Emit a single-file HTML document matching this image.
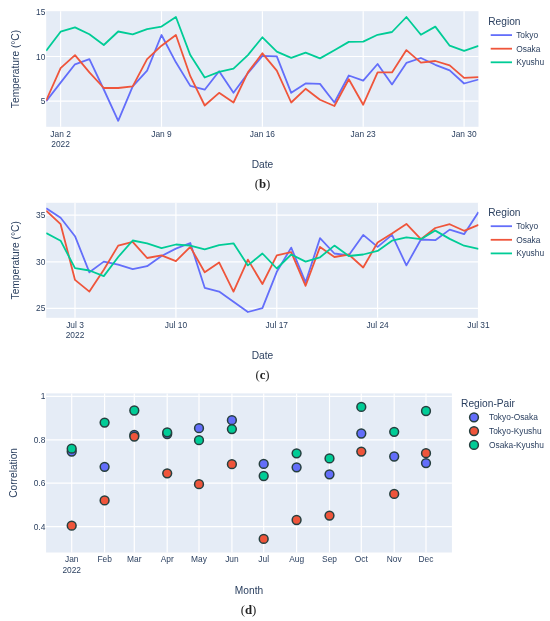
<!DOCTYPE html>
<html><head><meta charset="utf-8"><style>
html,body{margin:0;padding:0;background:#fff;width:550px;height:621px;overflow:hidden}
svg{display:block;will-change:transform}
text{font-family:"Liberation Sans",sans-serif;fill:#2a3f5f}
.tk{font-size:8.4px}
.at{font-size:10.2px}
.lt{font-size:10.2px}
.cap{font-family:"Liberation Serif",serif;font-size:12.8px;fill:#222}
</style></head><body>
<svg width="550" height="621" viewBox="0 0 550 621">
<defs>
<clipPath id="clip1"><rect x="46.2" y="11.2" width="432.3" height="115.6"/></clipPath>
<clipPath id="clip2"><rect x="46.2" y="202.8" width="432.3" height="115.0"/></clipPath>
</defs>
<rect width="550" height="621" fill="#fff"/>
<rect x="46.2" y="11.2" width="432.3" height="115.6" fill="#e5ecf6"/>
<line x1="60.6" y1="11.2" x2="60.6" y2="126.8" stroke="#fff" stroke-width="1.2"/>
<line x1="161.5" y1="11.2" x2="161.5" y2="126.8" stroke="#fff" stroke-width="1.2"/>
<line x1="262.4" y1="11.2" x2="262.4" y2="126.8" stroke="#fff" stroke-width="1.2"/>
<line x1="363.2" y1="11.2" x2="363.2" y2="126.8" stroke="#fff" stroke-width="1.2"/>
<line x1="464.1" y1="11.2" x2="464.1" y2="126.8" stroke="#fff" stroke-width="1.2"/>
<line x1="46.2" y1="56.5" x2="478.5" y2="56.5" stroke="#fff" stroke-width="1.2"/>
<line x1="46.2" y1="101.2" x2="478.5" y2="101.2" stroke="#fff" stroke-width="1.2"/>
<g clip-path="url(#clip1)">
<polyline points="46.2,101.2 60.6,82.6 75.0,64.3 89.4,59.2 103.8,89.5 118.2,120.8 132.7,86.4 147.1,70.6 161.5,35.0 175.9,62.3 190.3,85.9 204.7,89.7 219.1,71.2 233.5,92.8 247.9,73.2 262.4,55.9 276.8,56.4 291.2,92.8 305.6,83.4 320.0,83.9 334.4,102.5 348.8,75.5 363.2,80.6 377.6,64.0 392.0,84.4 406.4,62.9 420.9,58.0 435.3,64.8 449.7,70.4 464.1,83.5 478.5,79.5" fill="none" stroke="#636efa" stroke-width="1.8" stroke-linejoin="round"/>
<polyline points="46.2,100.4 60.6,68.1 75.0,55.1 89.4,72.4 103.8,88.0 118.2,88.0 132.7,86.4 147.1,59.2 161.5,45.7 175.9,35.0 190.3,76.2 204.7,105.5 219.1,92.8 233.5,102.5 247.9,72.4 262.4,53.3 276.8,70.6 291.2,102.5 305.6,88.8 320.0,99.7 334.4,106.0 348.8,79.3 363.2,104.7 377.6,72.4 392.0,72.4 406.4,50.1 420.9,62.6 435.3,61.0 449.7,65.4 464.1,77.9 478.5,77.1" fill="none" stroke="#ef553b" stroke-width="1.8" stroke-linejoin="round"/>
<polyline points="46.2,50.8 60.6,31.7 75.0,27.4 89.4,34.3 103.8,45.0 118.2,31.5 132.7,34.3 147.1,29.2 161.5,26.6 175.9,17.0 190.3,55.1 204.7,77.5 219.1,71.9 233.5,68.6 247.9,55.1 262.4,37.3 276.8,51.6 291.2,57.9 305.6,52.6 320.0,58.4 334.4,50.3 348.8,41.9 363.2,41.6 377.6,34.8 392.0,32.0 406.4,17.0 420.9,34.8 435.3,26.6 449.7,45.7 464.1,50.9 478.5,45.9" fill="none" stroke="#00cc96" stroke-width="1.8" stroke-linejoin="round"/>
</g>
<text x="45.3" y="14.7" text-anchor="end" class="tk">15</text>
<text x="45.3" y="59.5" text-anchor="end" class="tk">10</text>
<text x="45.3" y="104.2" text-anchor="end" class="tk">5</text>
<text x="60.6" y="136.5" text-anchor="middle" class="tk">Jan 2</text>
<text x="161.5" y="136.5" text-anchor="middle" class="tk">Jan 9</text>
<text x="262.4" y="136.5" text-anchor="middle" class="tk">Jan 16</text>
<text x="363.2" y="136.5" text-anchor="middle" class="tk">Jan 23</text>
<text x="464.1" y="136.5" text-anchor="middle" class="tk">Jan 30</text>
<text x="60.6" y="147.4" text-anchor="middle" class="tk">2022</text>
<text x="262.4" y="167.6" text-anchor="middle" class="at">Date</text>
<text transform="translate(18.6,69.0) rotate(-90)" text-anchor="middle" class="at">Temperature (°C)</text>
<text x="488.2" y="24.6" class="lt">Region</text>
<line x1="490.7" y1="35.1" x2="512" y2="35.1" stroke="#636efa" stroke-width="1.8"/>
<text x="516.2" y="38.1" class="tk">Tokyo</text>
<line x1="490.7" y1="48.7" x2="512" y2="48.7" stroke="#ef553b" stroke-width="1.8"/>
<text x="516.2" y="51.7" class="tk">Osaka</text>
<line x1="490.7" y1="62.3" x2="512" y2="62.3" stroke="#00cc96" stroke-width="1.8"/>
<text x="516.2" y="65.3" class="tk">Kyushu</text>
<text x="262.5" y="187.6" text-anchor="middle" class="cap">(<tspan font-weight="bold">b</tspan>)</text>
<rect x="46.2" y="202.8" width="432.3" height="115.0" fill="#e5ecf6"/>
<line x1="75.0" y1="202.8" x2="75.0" y2="317.8" stroke="#fff" stroke-width="1.2"/>
<line x1="175.9" y1="202.8" x2="175.9" y2="317.8" stroke="#fff" stroke-width="1.2"/>
<line x1="276.8" y1="202.8" x2="276.8" y2="317.8" stroke="#fff" stroke-width="1.2"/>
<line x1="377.6" y1="202.8" x2="377.6" y2="317.8" stroke="#fff" stroke-width="1.2"/>
<line x1="478.5" y1="202.8" x2="478.5" y2="317.8" stroke="#fff" stroke-width="1.2"/>
<line x1="46.2" y1="215.2" x2="478.5" y2="215.2" stroke="#fff" stroke-width="1.2"/>
<line x1="46.2" y1="261.8" x2="478.5" y2="261.8" stroke="#fff" stroke-width="1.2"/>
<line x1="46.2" y1="308.3" x2="478.5" y2="308.3" stroke="#fff" stroke-width="1.2"/>
<g clip-path="url(#clip2)">
<polyline points="46.2,208.2 60.6,217.8 75.0,236.2 89.4,272.3 103.8,261.6 118.2,264.7 132.7,269.2 147.1,266.2 161.5,256.0 175.9,248.6 190.3,243.0 204.7,287.8 219.1,291.6 233.5,301.8 247.9,312.0 262.4,308.2 276.8,271.8 291.2,247.6 305.6,282.3 320.0,238.2 334.4,253.5 348.8,255.3 363.2,234.9 377.6,246.9 392.0,234.9 406.4,265.4 420.9,239.5 435.3,240.2 449.7,229.6 464.1,234.2 478.5,212.1" fill="none" stroke="#636efa" stroke-width="1.8" stroke-linejoin="round"/>
<polyline points="46.2,210.7 60.6,224.2 75.0,279.9 89.4,291.6 103.8,269.8 118.2,245.6 132.7,241.8 147.1,258.0 161.5,255.3 175.9,261.1 190.3,246.9 204.7,272.3 219.1,262.4 233.5,291.6 247.9,259.6 262.4,284.0 276.8,255.3 291.2,252.2 305.6,285.8 320.0,246.9 334.4,257.0 348.8,254.5 363.2,267.5 377.6,242.5 392.0,233.6 406.4,223.9 420.9,239.2 435.3,228.0 449.7,224.2 464.1,230.8 478.5,224.8" fill="none" stroke="#ef553b" stroke-width="1.8" stroke-linejoin="round"/>
<polyline points="46.2,233.1 60.6,240.7 75.0,268.2 89.4,270.5 103.8,276.1 118.2,257.0 132.7,240.5 147.1,243.3 161.5,248.1 175.9,244.5 190.3,245.6 204.7,249.4 219.1,245.1 233.5,243.3 247.9,265.4 262.4,253.5 276.8,268.5 291.2,254.5 305.6,261.6 320.0,257.3 334.4,245.6 348.8,256.0 363.2,254.5 377.6,250.9 392.0,240.7 406.4,237.4 420.9,239.2 435.3,230.6 449.7,238.9 464.1,245.7 478.5,248.9" fill="none" stroke="#00cc96" stroke-width="1.8" stroke-linejoin="round"/>
</g>
<text x="45.3" y="218.2" text-anchor="end" class="tk">35</text>
<text x="45.3" y="264.8" text-anchor="end" class="tk">30</text>
<text x="45.3" y="311.3" text-anchor="end" class="tk">25</text>
<text x="75.0" y="327.5" text-anchor="middle" class="tk">Jul 3</text>
<text x="175.9" y="327.5" text-anchor="middle" class="tk">Jul 10</text>
<text x="276.8" y="327.5" text-anchor="middle" class="tk">Jul 17</text>
<text x="377.6" y="327.5" text-anchor="middle" class="tk">Jul 24</text>
<text x="478.5" y="327.5" text-anchor="middle" class="tk">Jul 31</text>
<text x="75.0" y="338.4" text-anchor="middle" class="tk">2022</text>
<text x="262.4" y="358.5" text-anchor="middle" class="at">Date</text>
<text transform="translate(18.6,260.3) rotate(-90)" text-anchor="middle" class="at">Temperature (°C)</text>
<text x="488.2" y="215.7" class="lt">Region</text>
<line x1="490.7" y1="226.2" x2="512" y2="226.2" stroke="#636efa" stroke-width="1.8"/>
<text x="516.2" y="229.2" class="tk">Tokyo</text>
<line x1="490.7" y1="239.8" x2="512" y2="239.8" stroke="#ef553b" stroke-width="1.8"/>
<text x="516.2" y="242.8" class="tk">Osaka</text>
<line x1="490.7" y1="253.4" x2="512" y2="253.4" stroke="#00cc96" stroke-width="1.8"/>
<text x="516.2" y="256.4" class="tk">Kyushu</text>
<text x="262.5" y="379.0" text-anchor="middle" class="cap">(<tspan font-weight="bold">c</tspan>)</text>
<rect x="46.1" y="393.4" width="405.8" height="159.1" fill="#e5ecf6"/>
<line x1="71.7" y1="393.4" x2="71.7" y2="552.5" stroke="#fff" stroke-width="1.2"/>
<line x1="104.6" y1="393.4" x2="104.6" y2="552.5" stroke="#fff" stroke-width="1.2"/>
<line x1="134.3" y1="393.4" x2="134.3" y2="552.5" stroke="#fff" stroke-width="1.2"/>
<line x1="167.2" y1="393.4" x2="167.2" y2="552.5" stroke="#fff" stroke-width="1.2"/>
<line x1="199.0" y1="393.4" x2="199.0" y2="552.5" stroke="#fff" stroke-width="1.2"/>
<line x1="231.9" y1="393.4" x2="231.9" y2="552.5" stroke="#fff" stroke-width="1.2"/>
<line x1="263.7" y1="393.4" x2="263.7" y2="552.5" stroke="#fff" stroke-width="1.2"/>
<line x1="296.6" y1="393.4" x2="296.6" y2="552.5" stroke="#fff" stroke-width="1.2"/>
<line x1="329.5" y1="393.4" x2="329.5" y2="552.5" stroke="#fff" stroke-width="1.2"/>
<line x1="361.3" y1="393.4" x2="361.3" y2="552.5" stroke="#fff" stroke-width="1.2"/>
<line x1="394.2" y1="393.4" x2="394.2" y2="552.5" stroke="#fff" stroke-width="1.2"/>
<line x1="426.0" y1="393.4" x2="426.0" y2="552.5" stroke="#fff" stroke-width="1.2"/>
<line x1="46.1" y1="396.4" x2="451.9" y2="396.4" stroke="#fff" stroke-width="1.2"/>
<line x1="46.1" y1="439.8" x2="451.9" y2="439.8" stroke="#fff" stroke-width="1.2"/>
<line x1="46.1" y1="483.2" x2="451.9" y2="483.2" stroke="#fff" stroke-width="1.2"/>
<line x1="46.1" y1="526.6" x2="451.9" y2="526.6" stroke="#fff" stroke-width="1.2"/>
<circle cx="71.7" cy="451.6" r="4.4" fill="#636efa" stroke="#263f3f" stroke-width="1.5"/>
<circle cx="104.6" cy="466.8" r="4.4" fill="#636efa" stroke="#263f3f" stroke-width="1.5"/>
<circle cx="134.3" cy="435.0" r="4.4" fill="#636efa" stroke="#263f3f" stroke-width="1.5"/>
<circle cx="167.2" cy="434.0" r="4.4" fill="#636efa" stroke="#263f3f" stroke-width="1.5"/>
<circle cx="199.0" cy="428.2" r="4.4" fill="#636efa" stroke="#263f3f" stroke-width="1.5"/>
<circle cx="231.9" cy="420.2" r="4.4" fill="#636efa" stroke="#263f3f" stroke-width="1.5"/>
<circle cx="263.7" cy="463.9" r="4.4" fill="#636efa" stroke="#263f3f" stroke-width="1.5"/>
<circle cx="296.6" cy="467.3" r="4.4" fill="#636efa" stroke="#263f3f" stroke-width="1.5"/>
<circle cx="329.5" cy="474.3" r="4.4" fill="#636efa" stroke="#263f3f" stroke-width="1.5"/>
<circle cx="361.3" cy="433.5" r="4.4" fill="#636efa" stroke="#263f3f" stroke-width="1.5"/>
<circle cx="394.2" cy="456.5" r="4.4" fill="#636efa" stroke="#263f3f" stroke-width="1.5"/>
<circle cx="426.0" cy="463.1" r="4.4" fill="#636efa" stroke="#263f3f" stroke-width="1.5"/>
<circle cx="71.7" cy="525.7" r="4.4" fill="#ef553b" stroke="#263f3f" stroke-width="1.5"/>
<circle cx="104.6" cy="500.4" r="4.4" fill="#ef553b" stroke="#263f3f" stroke-width="1.5"/>
<circle cx="134.3" cy="436.6" r="4.4" fill="#ef553b" stroke="#263f3f" stroke-width="1.5"/>
<circle cx="167.2" cy="473.3" r="4.4" fill="#ef553b" stroke="#263f3f" stroke-width="1.5"/>
<circle cx="199.0" cy="484.2" r="4.4" fill="#ef553b" stroke="#263f3f" stroke-width="1.5"/>
<circle cx="231.9" cy="464.2" r="4.4" fill="#ef553b" stroke="#263f3f" stroke-width="1.5"/>
<circle cx="263.7" cy="538.9" r="4.4" fill="#ef553b" stroke="#263f3f" stroke-width="1.5"/>
<circle cx="296.6" cy="520.0" r="4.4" fill="#ef553b" stroke="#263f3f" stroke-width="1.5"/>
<circle cx="329.5" cy="515.6" r="4.4" fill="#ef553b" stroke="#263f3f" stroke-width="1.5"/>
<circle cx="361.3" cy="451.6" r="4.4" fill="#ef553b" stroke="#263f3f" stroke-width="1.5"/>
<circle cx="394.2" cy="493.9" r="4.4" fill="#ef553b" stroke="#263f3f" stroke-width="1.5"/>
<circle cx="426.0" cy="453.2" r="4.4" fill="#ef553b" stroke="#263f3f" stroke-width="1.5"/>
<circle cx="71.7" cy="448.7" r="4.4" fill="#00cc96" stroke="#263f3f" stroke-width="1.5"/>
<circle cx="104.6" cy="422.6" r="4.4" fill="#00cc96" stroke="#263f3f" stroke-width="1.5"/>
<circle cx="134.3" cy="410.5" r="4.4" fill="#00cc96" stroke="#263f3f" stroke-width="1.5"/>
<circle cx="167.2" cy="432.3" r="4.4" fill="#00cc96" stroke="#263f3f" stroke-width="1.5"/>
<circle cx="199.0" cy="440.2" r="4.4" fill="#00cc96" stroke="#263f3f" stroke-width="1.5"/>
<circle cx="231.9" cy="429.1" r="4.4" fill="#00cc96" stroke="#263f3f" stroke-width="1.5"/>
<circle cx="263.7" cy="476.0" r="4.4" fill="#00cc96" stroke="#263f3f" stroke-width="1.5"/>
<circle cx="296.6" cy="453.3" r="4.4" fill="#00cc96" stroke="#263f3f" stroke-width="1.5"/>
<circle cx="329.5" cy="458.4" r="4.4" fill="#00cc96" stroke="#263f3f" stroke-width="1.5"/>
<circle cx="361.3" cy="406.9" r="4.4" fill="#00cc96" stroke="#263f3f" stroke-width="1.5"/>
<circle cx="394.2" cy="431.8" r="4.4" fill="#00cc96" stroke="#263f3f" stroke-width="1.5"/>
<circle cx="426.0" cy="411.0" r="4.4" fill="#00cc96" stroke="#263f3f" stroke-width="1.5"/>
<text x="45.3" y="399.4" text-anchor="end" class="tk">1</text>
<text x="45.3" y="442.8" text-anchor="end" class="tk">0.8</text>
<text x="45.3" y="486.2" text-anchor="end" class="tk">0.6</text>
<text x="45.3" y="529.6" text-anchor="end" class="tk">0.4</text>
<text x="71.7" y="562.3" text-anchor="middle" class="tk">Jan</text>
<text x="104.6" y="562.3" text-anchor="middle" class="tk">Feb</text>
<text x="134.3" y="562.3" text-anchor="middle" class="tk">Mar</text>
<text x="167.2" y="562.3" text-anchor="middle" class="tk">Apr</text>
<text x="199.0" y="562.3" text-anchor="middle" class="tk">May</text>
<text x="231.9" y="562.3" text-anchor="middle" class="tk">Jun</text>
<text x="263.7" y="562.3" text-anchor="middle" class="tk">Jul</text>
<text x="296.6" y="562.3" text-anchor="middle" class="tk">Aug</text>
<text x="329.5" y="562.3" text-anchor="middle" class="tk">Sep</text>
<text x="361.3" y="562.3" text-anchor="middle" class="tk">Oct</text>
<text x="394.2" y="562.3" text-anchor="middle" class="tk">Nov</text>
<text x="426.0" y="562.3" text-anchor="middle" class="tk">Dec</text>
<text x="71.7" y="573.4" text-anchor="middle" class="tk">2022</text>
<text x="249.0" y="593.9" text-anchor="middle" class="at">Month</text>
<text transform="translate(16.6,472.9) rotate(-90)" text-anchor="middle" class="at">Correlation</text>
<text x="461.1" y="406.9" class="lt">Region-Pair</text>
<circle cx="474" cy="417.3" r="4.4" fill="#636efa" stroke="#263f3f" stroke-width="1.5"/>
<text x="489" y="420.3" class="tk">Tokyo-Osaka</text>
<circle cx="474" cy="431.1" r="4.4" fill="#ef553b" stroke="#263f3f" stroke-width="1.5"/>
<text x="489" y="434.1" class="tk">Tokyo-Kyushu</text>
<circle cx="474" cy="444.9" r="4.4" fill="#00cc96" stroke="#263f3f" stroke-width="1.5"/>
<text x="489" y="447.9" class="tk">Osaka-Kyushu</text>
<text x="248.5" y="613.6" text-anchor="middle" class="cap">(<tspan font-weight="bold">d</tspan>)</text>
</svg>
</body></html>
